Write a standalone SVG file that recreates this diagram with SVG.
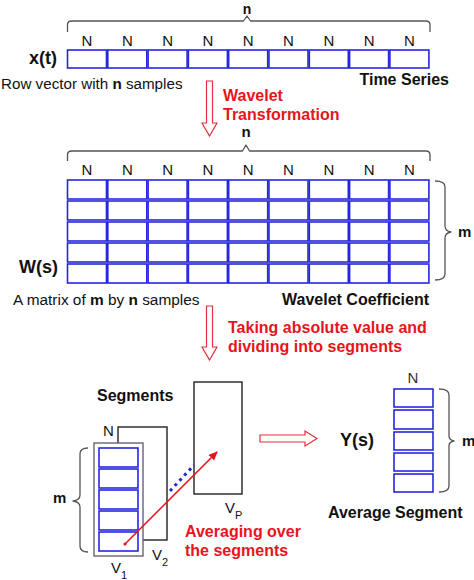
<svg xmlns="http://www.w3.org/2000/svg" xmlns:xlink="http://www.w3.org/1999/xlink" width="474" height="580" viewBox="0 0 474 580">
<style>
text{font-family:"Liberation Sans",Arial,sans-serif;fill:#111}
.b{font-weight:bold}
.red{fill:#e8141c;font-weight:bold;font-size:16px}
.nl{font-size:15px;fill:#333;text-anchor:middle}
.cell{fill:#fff;stroke:#2626dc;stroke-width:1.6}
.brace{fill:none;stroke:#555;stroke-width:1.3;stroke-linejoin:round}
.hollow{fill:#fff;stroke:#e0323a;stroke-width:1.2}
.seg{fill:#fff;stroke:#222;stroke-width:1.4}
</style>
<defs>
<rect id="c18" width="39" height="18" class="cell"/>
<rect id="c19" width="39" height="19" class="cell"/>
<marker id="ah" markerWidth="10" markerHeight="10" refX="8" refY="4" orient="auto" markerUnits="userSpaceOnUse">
<path d="M0,0 L9,4 L0,8 Z" fill="#e8141c"/>
</marker>
</defs>

<g id="time-series">
<path class="brace" d="M67.5,32 V25 Q67.5,21 71.5,21 H243.5 L247,16 L250.5,21 H426 Q430,21 430,25 V32"/>
<text x="247" y="14" class="b" font-size="14" text-anchor="middle">n</text>
<g class="nl">
<text x="87" y="46">N</text><text x="127.3" y="46">N</text><text x="167.6" y="46">N</text><text x="207.9" y="46">N</text><text x="248.2" y="46">N</text><text x="288.5" y="46">N</text><text x="328.8" y="46">N</text><text x="369.1" y="46">N</text><text x="409.4" y="46">N</text>
</g>
<use xlink:href="#c18" x="67.5" y="50"/><use xlink:href="#c18" x="107.8" y="50"/><use xlink:href="#c18" x="148.1" y="50"/><use xlink:href="#c18" x="188.4" y="50"/><use xlink:href="#c18" x="228.7" y="50"/><use xlink:href="#c18" x="269" y="50"/><use xlink:href="#c18" x="309.3" y="50"/><use xlink:href="#c18" x="349.6" y="50"/><use xlink:href="#c18" x="389.9" y="50"/>
<text x="57" y="64" class="b" font-size="18" text-anchor="end">x(t)</text>
<text x="1" y="89" font-size="15.2">Row vector with <tspan class="b">n</tspan> samples</text>
<text x="449" y="85" class="b" font-size="16" text-anchor="end">Time Series</text>
</g>

<g id="wavelet-matrix">
<path class="brace" d="M67.5,161 V155 Q67.5,151 71.5,151 H242.5 L246,145 L249.5,151 H426 Q430,151 430,155 V161"/>
<text x="246" y="137" class="b" font-size="15" text-anchor="middle">n</text>
<g class="nl">
<text x="87" y="175">N</text><text x="127.3" y="175">N</text><text x="167.6" y="175">N</text><text x="207.9" y="175">N</text><text x="248.2" y="175">N</text><text x="288.5" y="175">N</text><text x="328.8" y="175">N</text><text x="369.1" y="175">N</text><text x="409.4" y="175">N</text>
</g>
<g id="rows">
<g id="row1">
<use xlink:href="#c19" x="67.5" y="180"/><use xlink:href="#c19" x="107.8" y="180"/><use xlink:href="#c19" x="148.1" y="180"/><use xlink:href="#c19" x="188.4" y="180"/><use xlink:href="#c19" x="228.7" y="180"/><use xlink:href="#c19" x="269" y="180"/><use xlink:href="#c19" x="309.3" y="180"/><use xlink:href="#c19" x="349.6" y="180"/><use xlink:href="#c19" x="389.9" y="180"/>
</g>
<use xlink:href="#row1" y="21"/><use xlink:href="#row1" y="42"/><use xlink:href="#row1" y="63"/><use xlink:href="#row1" y="84"/>
</g>
<path class="brace" d="M435,181 Q445,181 445,187 V226 Q445,231 451,232 Q445,233 445,238 V274 Q445,280 435,280"/>
<text x="458" y="237" class="b" font-size="15">m</text>
<text x="58" y="273" class="b" font-size="18" text-anchor="end">W(s)</text>
<text x="13" y="305" font-size="15.4">A matrix of <tspan class="b">m</tspan> by <tspan class="b">n</tspan> samples</text>
<text x="429" y="305" class="b" font-size="16" text-anchor="end">Wavelet Coefficient</text>
</g>

<g id="segments">
<text x="97" y="401" class="b" font-size="16">Segments</text>
<rect id="vp" x="194" y="382" width="48" height="112" class="seg"/>
<text x="225" y="513" font-size="15" fill="#333">V<tspan font-size="11" dy="6">P</tspan></text>
<rect id="v2" x="118" y="427" width="49" height="113" class="seg"/>
<text x="103" y="436" font-size="15" fill="#333">N</text>
<text x="152" y="560" font-size="15" fill="#333">V<tspan font-size="11" dy="6">2</tspan></text>
<rect id="v1" x="94" y="443" width="49" height="113" fill="#fff" stroke="#666" stroke-width="1.4"/>
<rect x="99" y="448" width="39" height="19" class="cell"/>
<rect x="99" y="469" width="39" height="19" class="cell"/>
<rect x="99" y="490" width="39" height="19" class="cell"/>
<rect x="99" y="511" width="39" height="19" class="cell"/>
<rect x="99" y="532" width="39" height="19" class="cell"/>
<text x="111" y="573" font-size="15" fill="#333">V<tspan font-size="11" dy="6">1</tspan></text>
<path class="brace" d="M88,448 Q80,448 80,454 V495 Q80,500 73,501 Q80,502 80,507 V546 Q80,552 88,552"/>
<text x="53" y="503" class="b" font-size="15">m</text>
</g>

<g id="average-segment">
<text x="413" y="383" class="nl">N</text>
<rect x="394" y="389" width="39" height="18" class="cell"/>
<rect x="394" y="410" width="39" height="19" class="cell"/>
<rect x="394" y="432" width="39" height="18" class="cell"/>
<rect x="394" y="453" width="39" height="18" class="cell"/>
<rect x="394" y="474" width="39" height="18" class="cell"/>
<path class="brace" d="M439,389 Q449,389 449,395 V436 Q449,440 454,441 Q449,442 449,446 V486 Q449,492 439,492"/>
<text x="462" y="446" class="b" font-size="15">m</text>
<text x="374" y="446" class="b" font-size="18" text-anchor="end">Y(s)</text>
<text x="328" y="518" class="b" font-size="16">Average Segment</text>
</g>

<g id="connectors">
<path class="hollow" d="M206.5,81 H212.5 V123 H217 L209.5,136 L202,123 H206.5 Z"/>
<path class="hollow" d="M206.5,306 H212.5 V347 H217 L209.5,360 L202,347 H206.5 Z"/>
<path class="hollow" d="M260,435 H305 V431 L317,438.5 L305,446 V442 H260 Z"/>
<line x1="170" y1="491" x2="194" y2="465" stroke="#2424d0" stroke-width="3" stroke-dasharray="3 4"/>
<circle cx="125" cy="544" r="1.6" fill="#e8141c"/>
<line x1="125" y1="544" x2="217" y2="452" stroke="#e8141c" stroke-width="1.5" marker-end="url(#ah)"/>
</g>

<g id="labels">
<text x="223" y="101" class="red">Wavelet</text>
<text x="223" y="120" class="red">Transformation</text>
<text x="228" y="333" class="red">Taking absolute value and</text>
<text x="228" y="352" class="red">dividing into segments</text>
<text x="185" y="537" class="red">Averaging over</text>
<text x="185" y="556" class="red">the segments</text>
</g>
</svg>
